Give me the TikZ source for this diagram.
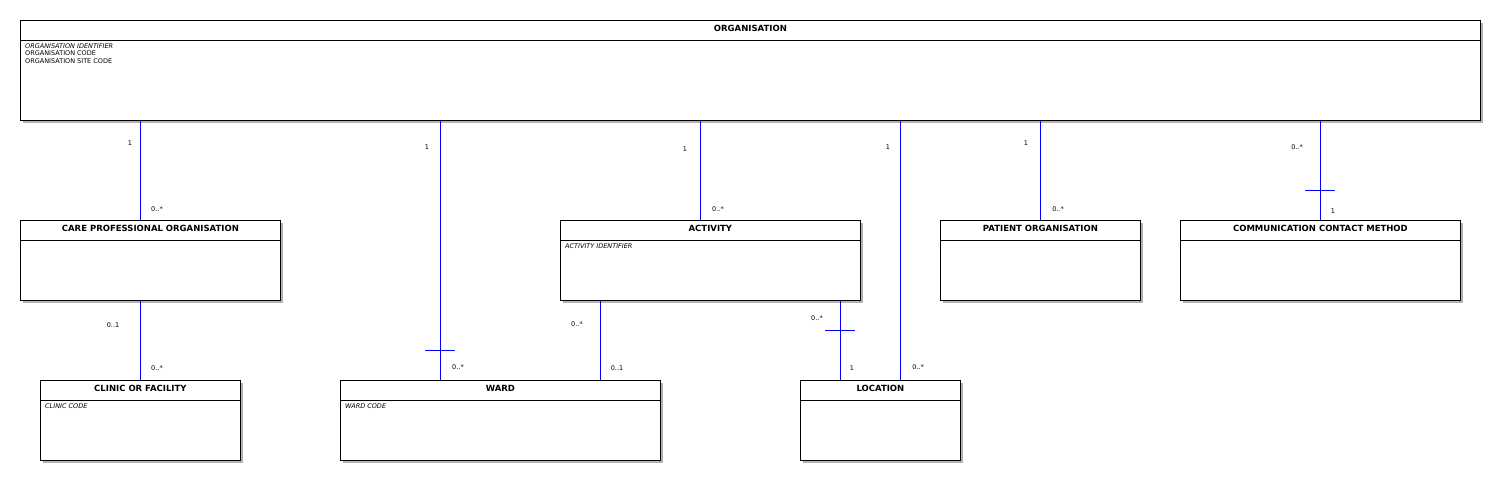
\documentclass[tikz,border=0pt]{standalone}
\usepackage{fontspec}
\setmainfont{DejaVu Sans}
\usetikzlibrary{shadows}
\tikzset{
  entity/.style={draw, fill=white, anchor=north west, line width=0.8pt,
    drop shadow={shadow xshift=2.5pt, shadow yshift=-2.5pt, fill=gray!60, opacity=1}},
  title/.style={anchor=north, font=\fontsize{8.5}{10}\selectfont\bfseries, inner sep=0pt, yshift=-5pt},
  attr/.style={anchor=north west, font=\fontsize{6.5}{7.5}\selectfont, inner sep=0pt, align=left, xshift=5pt, yshift=-23pt},
  assoc/.style={draw=blue, line width=0.7pt},
  mult/.style={font=\fontsize{6.5}{8}\selectfont, inner sep=0pt}
}
\newcommand{\sepline}[1]{\draw[line width=0.6pt] ([yshift=-20pt]#1.north west) -- ([yshift=-20pt]#1.north east);}
\begin{document}
\begin{tikzpicture}[x=1pt, y=-1pt]
\useasboundingbox (0,0) rectangle (1500,480);
% entities
\node[entity, minimum width=1460, minimum height=100] (org) at (20,20) {};
\node[title] at (org.north) {ORGANISATION};
\node[attr] at (org.north west) {\itshape ORGANISATION IDENTIFIER\\ORGANISATION CODE\\ORGANISATION SITE CODE};
\sepline{org}
\node[entity, minimum width=260, minimum height=80] (cpo) at (20,220) {};
\node[title] at (cpo.north) {CARE PROFESSIONAL ORGANISATION};
\sepline{cpo}
\node[entity, minimum width=300, minimum height=80] (act) at (560,220) {};
\node[title] at (act.north) {ACTIVITY};
\node[attr] at (act.north west) {\itshape ACTIVITY IDENTIFIER};
\sepline{act}
\node[entity, minimum width=200, minimum height=80] (pat) at (940,220) {};
\node[title] at (pat.north) {PATIENT ORGANISATION};
\sepline{pat}
\node[entity, minimum width=280, minimum height=80] (ccm) at (1180,220) {};
\node[title] at (ccm.north) {COMMUNICATION CONTACT METHOD};
\sepline{ccm}
\node[entity, minimum width=200, minimum height=80] (clin) at (40,380) {};
\node[title] at (clin.north) {CLINIC OR FACILITY};
\node[attr] at (clin.north west) {\itshape CLINIC CODE};
\sepline{clin}
\node[entity, minimum width=320, minimum height=80] (ward) at (340,380) {};
\node[title] at (ward.north) {WARD};
\node[attr] at (ward.north west) {\itshape WARD CODE};
\sepline{ward}
\node[entity, minimum width=160, minimum height=80] (loc) at (800,380) {};
\node[title] at (loc.north) {LOCATION};
\sepline{loc}
% associations
\draw[assoc] (140,0 |- org.south) -- (140,0 |- cpo.north);
\node[mult] at (130,143) {1};
\node[mult] at (157,209) {0..*};
\draw[assoc] (440,0 |- org.south) -- (440,0 |- ward.north);
\draw[assoc] (425,350) -- (455,350);
\node[mult] at (427,147) {1};
\node[mult] at (458,367) {0..*};
\draw[assoc] (700,0 |- org.south) -- (700,0 |- act.north);
\node[mult] at (685,149) {1};
\node[mult] at (718,209) {0..*};
\draw[assoc] (900,0 |- org.south) -- (900,0 |- loc.north);
\node[mult] at (888,147) {1};
\node[mult] at (918,367) {0..*};
\draw[assoc] (1040,0 |- org.south) -- (1040,0 |- pat.north);
\node[mult] at (1026,143) {1};
\node[mult] at (1058,209) {0..*};
\draw[assoc] (1320,0 |- org.south) -- (1320,0 |- ccm.north);
\draw[assoc] (1305,190) -- (1335,190);
\node[mult] at (1297,147) {0..*};
\node[mult] at (1333,211) {1};
\draw[assoc] (140,0 |- cpo.south) -- (140,0 |- clin.north);
\node[mult] at (113,325) {0..1};
\node[mult] at (157,368) {0..*};
\draw[assoc] (600,0 |- act.south) -- (600,0 |- ward.north);
\node[mult] at (577,324) {0..*};
\node[mult] at (617,368) {0..1};
\draw[assoc] (840,0 |- act.south) -- (840,0 |- loc.north);
\draw[assoc] (825,330) -- (855,330);
\node[mult] at (817,318) {0..*};
\node[mult] at (852,368) {1};
\end{tikzpicture}
\end{document}
